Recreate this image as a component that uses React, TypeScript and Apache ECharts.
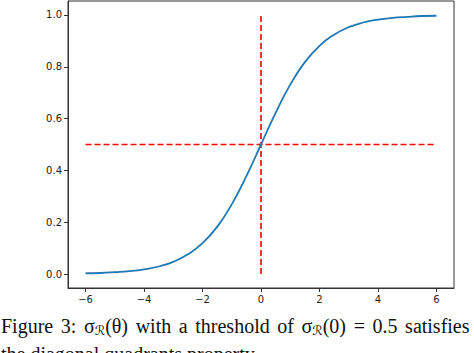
import React, { useEffect, useRef } from "react";
import * as echarts from "echarts";

const xValues = [-6, -5.5, -5, -4.5, -4, -3.5, -3, -2.5, -2, -1.5, -1, -0.5, 0, 0.5, 1, 1.5, 2, 2.5, 3, 3.5, 4, 4.5, 5, 5.5, 6];
const sigmaValues = [0.003, 0.004, 0.007, 0.011, 0.018, 0.029, 0.047, 0.076, 0.119, 0.182, 0.269, 0.378, 0.5, 0.622, 0.731, 0.818, 0.881, 0.924, 0.953, 0.971, 0.982, 0.989, 0.993, 0.996, 0.997];
const vLine = [[0, 0], [0, 1]];
const hLine = [[-6, 0.5], [6, 0.5]];
const xTicks = [-6, -4, -2, 0, 2, 4, 6];
const yTicks = [0, 0.2, 0.4, 0.6, 0.8, 1.0];
// caption line 1 as words; "_" marks a subscript
const captionWords = ["Figure", "3:", "σ_ℛ(θ)", "with", "a", "threshold", "of", "σ_ℛ(0)", "=", "0.5", "satisfies"];
const captionLine2 = "the diagonal quadrants property";

function richWord(w: string): string {
  const i = w.indexOf("_");
  if (i < 0) return "{m|" + w + "}";
  return "{m|" + w.slice(0, i) + "}{s|" + w.slice(i + 1, i + 2) + "}{m|" + w.slice(i + 2) + "}";
}

export default function App() {
  const ref = useRef<HTMLDivElement>(null);
  useEffect(() => {
    document.body.style.margin = "0";
    const chart = echarts.init(ref.current!, undefined, { renderer: "svg" });
    const axisLabelStyle = { fontFamily: "DejaVu Sans", fontSize: 10, color: "#222" };
    const capFont = 20;
    chart.setOption({
      animation: false,
      backgroundColor: "#fff",
      grid: { left: 68, right: 20, top: 1, bottom: 65, show: true, borderColor: "#333", borderWidth: 1 },
      xAxis: {
        type: "value",
        min: -6.6,
        max: 6.6,
        splitLine: { show: false },
        axisLine: { show: true, onZero: false, lineStyle: { color: "#333" } },
        axisTick: { show: true, length: 4, customValues: xTicks, lineStyle: { color: "#333" } },
        axisLabel: { ...axisLabelStyle, margin: 6, customValues: xTicks, formatter: (v: number) => (v < 0 ? "\u2212" + Math.abs(v) : String(v)) },
      },
      yAxis: {
        type: "value",
        min: -0.054,
        max: 1.054,
        splitLine: { show: false },
        axisLine: { show: true, onZero: false, lineStyle: { color: "#333" } },
        axisTick: { show: true, length: 4, customValues: yTicks, lineStyle: { color: "#333" } },
        axisLabel: { ...axisLabelStyle, margin: 6, customValues: yTicks, formatter: (v: number) => v.toFixed(1) },
      },
      series: [
        {
          type: "line",
          data: xValues.map((x, i) => [x, sigmaValues[i]]),
          smooth: true,
          showSymbol: false,
          lineStyle: { color: "#1f77b4", width: 1.8 },
          z: 3,
        },
        {
          type: "line",
          data: vLine,
          showSymbol: false,
          lineStyle: { color: "#ff0000", width: 1.6, type: [6, 3] },
          z: 2,
        },
        {
          type: "line",
          data: hLine,
          showSymbol: false,
          lineStyle: { color: "#ff0000", width: 1.6, type: [6, 3] },
          z: 2,
        },
      ],
      graphic: [
        {
          type: "text",
          left: 1,
          top: 316,
          style: {
            text: captionWords.map(richWord).join("{sp| }"),
            rich: {
              m: { fontFamily: "Liberation Serif", fontSize: capFont, fill: "#111", color: "#111", lineHeight: 22, verticalAlign: "middle" },
              s: { fontFamily: "DejaVu Sans", fontSize: 13, fill: "#111", color: "#111", verticalAlign: "bottom" },
              sp: { fontFamily: "Liberation Serif", fontSize: capFont, width: 7.6, lineHeight: 22 },
            },
          },
        },
        {
          type: "text",
          left: 1,
          top: 344,
          style: { text: captionLine2, fontFamily: "Liberation Serif", fontSize: capFont, fill: "#111" },
        },
      ],
    });
    return () => chart.dispose();
  }, []);
  return <div ref={ref} style={{ width: 474, height: 353 }} />;
}
